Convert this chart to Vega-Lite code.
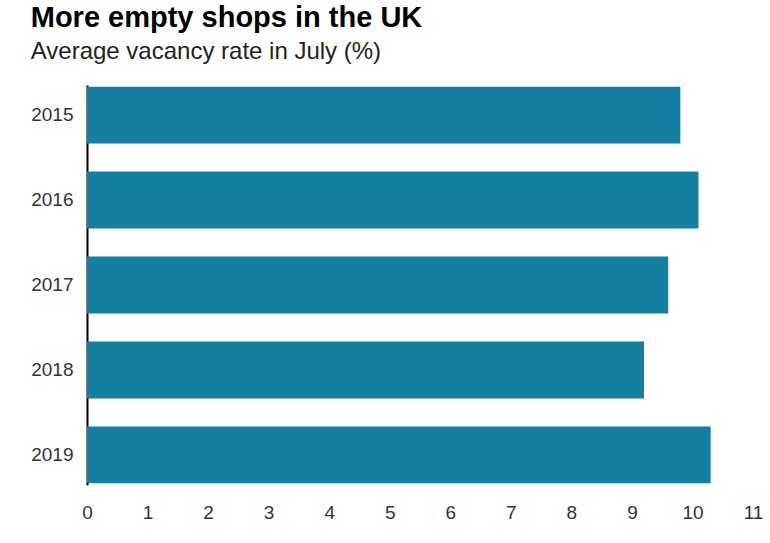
{
  "$schema": "https://vega.github.io/schema/vega-lite/v6.json",
  "width": 666,
  "height": 400,
  "padding": {"left": 30, "top": 4, "right": 10, "bottom": 5},
  "background": "white",
  "config": {
    "font": "Liberation Sans",
    "view": {"stroke": null}
  },
  "title": {
    "text": "More empty shops in the UK",
    "subtitle": "Average vacancy rate in July (%)",
    "anchor": "start",
    "frame": "bounds",
    "font": "Liberation Sans",
    "fontSize": 29,
    "fontWeight": "bold",
    "color": "#000000",
    "subtitleFont": "Liberation Sans",
    "subtitleFontSize": 24,
    "subtitleColor": "#222222",
    "subtitlePadding": 7,
    "offset": 21
  },
  "data": {
    "values": [
      {"year": "2015", "rate": 9.8},
      {"year": "2016", "rate": 10.1},
      {"year": "2017", "rate": 9.6},
      {"year": "2018", "rate": 9.2},
      {"year": "2019", "rate": 10.3}
    ]
  },
  "mark": {"type": "bar", "color": "#1380A1"},
  "encoding": {
    "y": {
      "field": "year",
      "type": "nominal",
      "sort": null,
      "scale": {"paddingInner": 0.33, "paddingOuter": 0.02},
      "axis": {
        "title": null,
        "ticks": false,
        "domain": true,
        "domainColor": "#000000",
        "domainWidth": 2,
        "labelFontSize": 19,
        "labelColor": "#333333",
        "labelPadding": 14,
        "grid": false
      }
    },
    "x": {
      "field": "rate",
      "type": "quantitative",
      "scale": {"domain": [0, 11], "nice": false},
      "axis": {
        "title": null,
        "values": [0,1,2,3,4,5,6,7,8,9,10,11],
        "ticks": false,
        "domain": false,
        "grid": false,
        "labelFontSize": 19,
        "labelColor": "#333333",
        "labelPadding": 18,
        "labelFlush": false
      }
    }
  }
}
